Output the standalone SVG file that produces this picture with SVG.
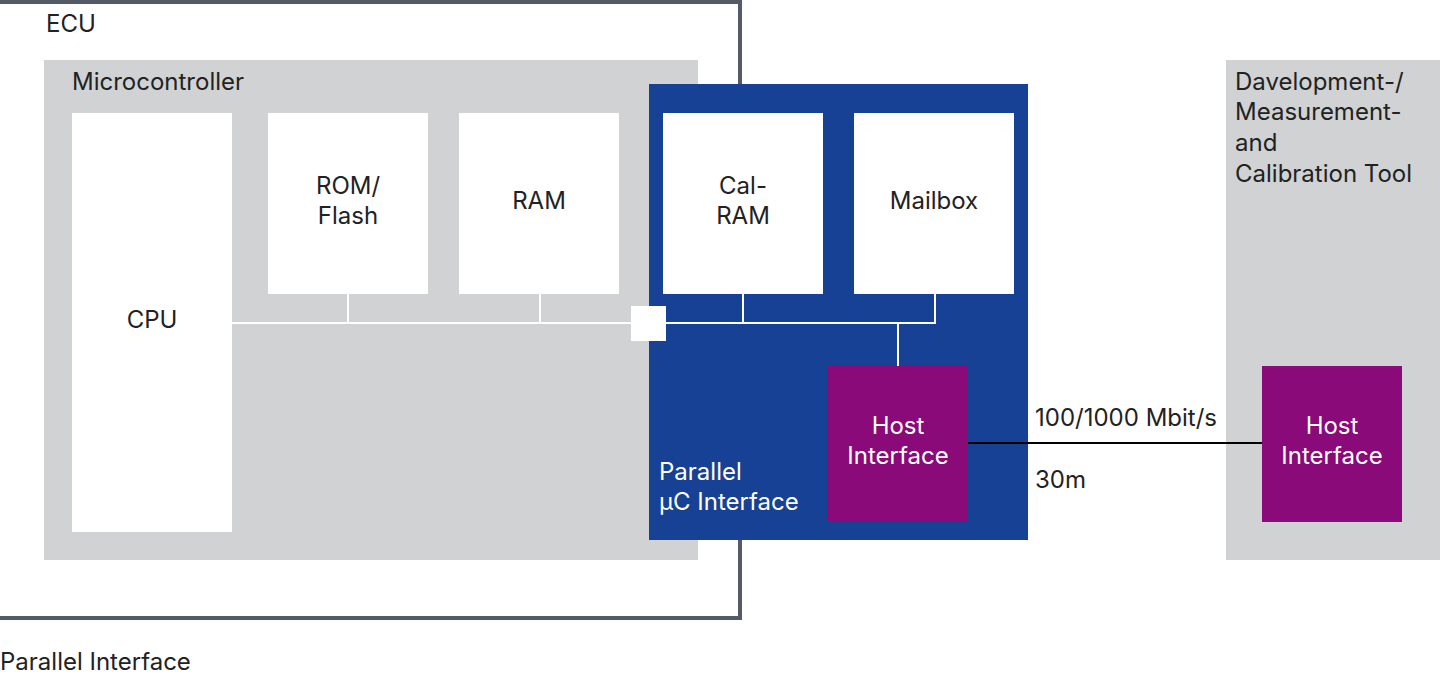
<svg xmlns="http://www.w3.org/2000/svg" width="1440" height="680" viewBox="0 0 1440 680">
<style>
text{font-family:Inter,"Liberation Sans",sans-serif;font-size:24px;fill:#222}
.w{fill:#fff}.c{text-anchor:middle}
.box{fill:#fff}.hi{fill:#8a0a7a}
.ln{stroke:#fff;stroke-width:2;fill:none}
</style>
<rect width="1440" height="680" fill="#fff"/>
<g id="ecu"><rect x="-2" y="2" width="742" height="616" fill="#fff" stroke="#535c66" stroke-width="4"/><text x="46" y="32">ECU</text></g>
<g id="microcontroller"><rect x="44" y="60" width="654" height="500" fill="#d0d2d4"/><text x="72" y="90">Microcontroller</text></g>
<g id="parallel-uc"><rect x="649" y="84" width="379" height="456" fill="#164194"/><text class="w" x="659" y="480">Parallel</text><text class="w" x="659" y="510">μC Interface</text></g>
<g id="tool"><rect x="1226" y="60" width="214" height="500" fill="#d0d2d4"/><text x="1235" y="90">Davelopment-/</text><text x="1235" y="120">Measurement-</text><text x="1235" y="151">and</text><text x="1235" y="182">Calibration Tool</text></g>
<g id="connectors">
<path class="ln" d="M232 323H631M666 323H935V294M348 294V323M540 294V323M743 294V323M898 323V366"/>
<path d="M968 443H1262" stroke="#000" stroke-width="2"/>
<text x="1035" y="426">100/1000 Mbit/s</text><text x="1035" y="488">30m</text>
</g>
<g id="cpu"><rect class="box" x="72" y="113" width="160" height="419"/><text class="c" x="152" y="328">CPU</text></g>
<g id="rom"><rect class="box" x="268" y="113" width="160" height="181"/><text class="c" x="348" y="194">ROM/</text><text class="c" x="348" y="224">Flash</text></g>
<g id="ram"><rect class="box" x="459" y="113" width="160" height="181"/><text class="c" x="539" y="209">RAM</text></g>
<g id="calram"><rect class="box" x="663" y="113" width="160" height="181"/><text class="c" x="743" y="194">Cal-</text><text class="c" x="743" y="224">RAM</text></g>
<g id="mailbox"><rect class="box" x="854" y="113" width="160" height="181"/><text class="c" x="934" y="209">Mailbox</text></g>
<g id="bridge"><rect class="box" x="631" y="306" width="35" height="35"/></g>
<g id="host1"><rect class="hi" x="828" y="366" width="140" height="156"/><text class="c w" x="898" y="434">Host</text><text class="c w" x="898" y="464">Interface</text></g>
<g id="host2"><rect class="hi" x="1262" y="366" width="140" height="156"/><text class="c w" x="1332" y="434">Host</text><text class="c w" x="1332" y="464">Interface</text></g>
<text x="0" y="670">Parallel Interface</text>
</svg>
